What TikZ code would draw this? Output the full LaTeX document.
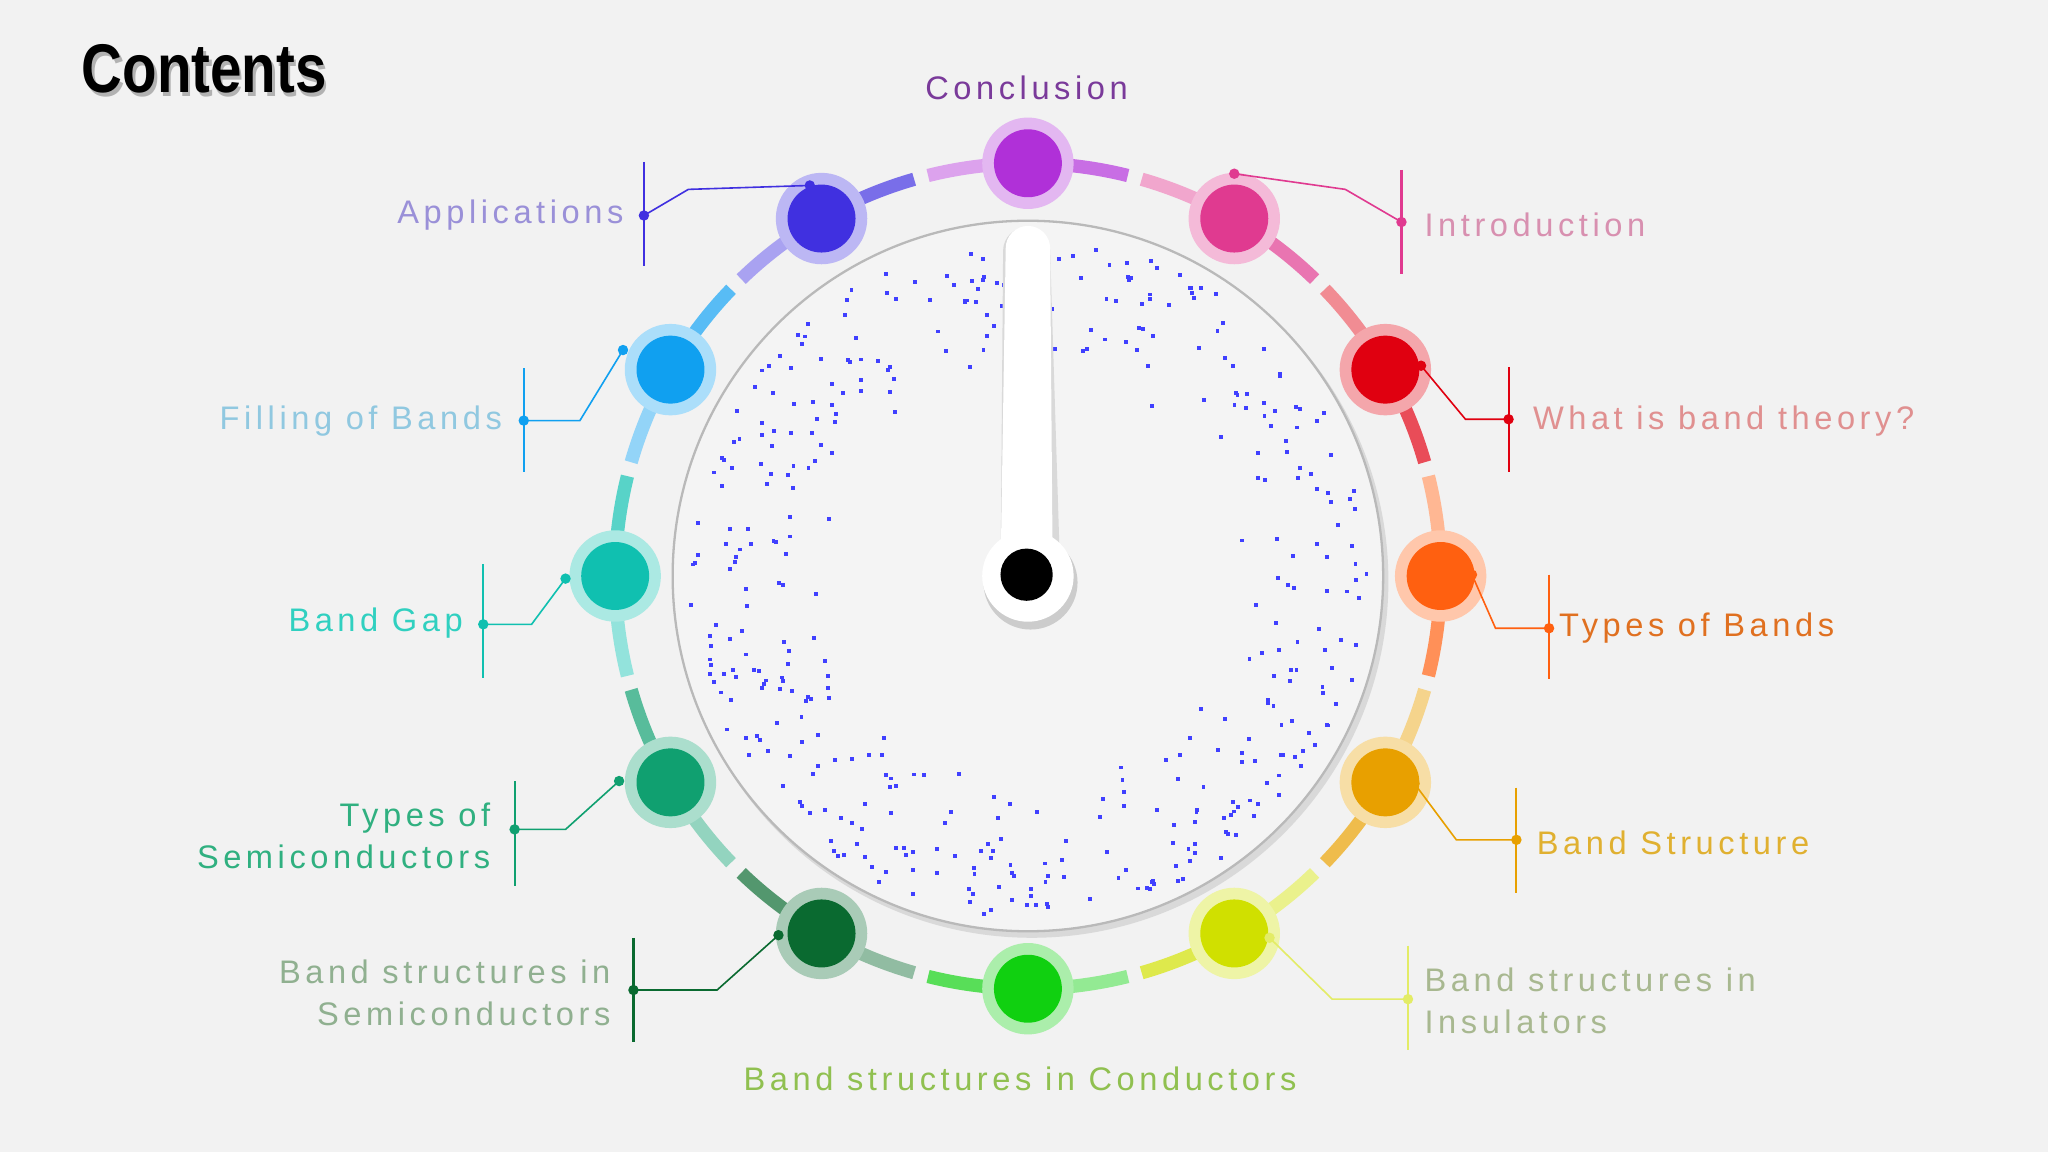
\documentclass[tikz,border=0pt]{standalone}
\usepackage{fontspec}
\setmainfont{Liberation Sans}
\newfontfamily\spaced[LetterSpace=14]{Liberation Sans}
\usetikzlibrary{calc}
\definecolor{bg}{HTML}{F2F2F2}
\definecolor{cA}{HTML}{B030D8}\definecolor{cB}{HTML}{E03A90}\definecolor{cC}{HTML}{E00010}
\definecolor{cD}{HTML}{FF6010}\definecolor{cE}{HTML}{E8A000}\definecolor{cF}{HTML}{D0E000}
\definecolor{cG}{HTML}{10D010}\definecolor{cH}{HTML}{0A6A30}\definecolor{cI}{HTML}{10A070}
\definecolor{cJ}{HTML}{10C0B0}\definecolor{cK}{HTML}{10A0F0}\definecolor{cL}{HTML}{4030E0}
\definecolor{tA}{HTML}{7A3A9A}\definecolor{tB}{HTML}{D890B0}\definecolor{tC}{HTML}{E09090}
\definecolor{tD}{HTML}{E07020}\definecolor{tE}{HTML}{E0B030}\definecolor{tF}{HTML}{A8B890}
\definecolor{tG}{HTML}{90C050}\definecolor{tH}{HTML}{90B090}\definecolor{tI}{HTML}{30B080}
\definecolor{tJ}{HTML}{30D0C0}\definecolor{tK}{HTML}{90C8E0}\definecolor{tL}{HTML}{9A90D8}
\tikzset{lbl/.style={font=\spaced\fontsize{7.1}{9.2}\selectfont,inner sep=0pt},
 lead/.style={line width=0.35pt},
 vbar/.style={line width=0.45pt}}
\newcommand\leader[4]{%
  \fill[#1] #2 circle (4);
  \draw[lead,#1] #2 -- #3 -- #4;
  \fill[#1] #4 circle (4);}
\begin{document}
\begin{tikzpicture}[x=0.01cm,y=-0.01cm]
\fill[bg] (0,0) rectangle (1568,882);
\useasboundingbox (0,0) rectangle (1568,882);
\coordinate (c) at (787,441);
% title
\node[anchor=west,xscale=0.82,inner sep=0pt,font=\bfseries\fontsize{15}{18}\selectfont,text=gray!60] at (64,56) {Contents};
\node[anchor=west,xscale=0.82,inner sep=0pt,font=\bfseries\fontsize{15}{18}\selectfont] (title) at (62,53) {Contents};
% ring arcs
\foreach \a/\col in {90/cA,60/cB,30/cC,0/cD,-30/cE,-60/cF,-90/cG,-120/cH,-150/cI,180/cJ,150/cK,120/cL}{
  \draw[line width=2.9pt,\col!45] ($(c)+(-\a-14:316)$) arc[start angle=-\a-14,end angle=-\a-1,radius=316];
  \draw[line width=2.9pt,\col!70] ($(c)+(-\a+1:316)$) arc[start angle=-\a+1,end angle=-\a+14,radius=316];
}
% inner disk
\fill[gray!30] ($(c)+(3,4)$) circle (273);
\fill[gray!9] (c) circle (272);
\draw[gray!55,line width=0.5pt] (c) circle (272);
% dots
\pgfmathsetseed{7}
\foreach \i in {1,...,420}{
  \pgfmathsetmacro\ang{rnd*360}
  \pgfmathsetmacro\rr{150+110*sqrt(rnd)}
  \fill[blue!75] ($(c)+(\ang:\rr)$) rectangle ++(3,3);
}
% hand
\fill[gray!30] (768,192) arc[start angle=180,end angle=360,radius=18] -- (812,448) -- (766,448) -- cycle;
\fill[white] (770,190) arc[start angle=180,end angle=360,radius=17] -- (806,441) -- (766,441) -- cycle;
% knob
\fill[gray!40] (789,446) circle (36);
\fill[white] (c) circle (35);
\fill[black] (786,440) circle (20);
\node (knob) at (c) {};
% nodes
\foreach \a/\col/\n in {90/cA/nA,60/cB/nB,30/cC/nC,0/cD/nD,-30/cE/nE,-60/cF/nF,-90/cG/nG,-120/cH/nH,-150/cI/nI,180/cJ/nJ,150/cK/nK,120/cL/nL}{
  \fill[\col!35] ($(c)+(-\a:316)$) circle (35);
  \node[circle,fill=\col,minimum size=0.52cm,inner sep=0pt] (\n) at ($(c)+(-\a:316)$) {};
}
% Applications
\leader{cL}{(620,142)}{(527,145)}{(493,165)}
\draw[vbar,cL] (493,124) -- (493,204);
\node[lbl,text=tL,anchor=east] (lL) at (478,165) {Applications};
% Filling
\leader{cK}{(477,268)}{(444,322)}{(401,322)}
\draw[vbar,cK] (401,282) -- (401,361);
\node[lbl,text=tK,anchor=east] (lK) at (385,322) {Filling of Bands};
% Band gap
\leader{cJ}{(433,443)}{(407,478)}{(370,478)}
\draw[vbar,cJ] (370,432) -- (370,519);
\node[lbl,text=tJ,anchor=east] (lJ) at (355,477) {Band Gap};
% Types of semiconductors
\leader{cI}{(474,598)}{(433,635)}{(394,635)}
\draw[vbar,cI] (394,598) -- (394,678);
\node[lbl,text=tI,anchor=east,align=right] (lI) at (376,640) {Types of\\Semiconductors};
% Band structures in semiconductors
\leader{cH}{(596,716)}{(549,758)}{(485,758)}
\draw[vbar,cH] (485,718) -- (485,798);
\node[lbl,text=tH,anchor=east,align=right] (lH) at (468,760) {Band structures in\\Semiconductors};
% Conductors
\node[lbl,text=tG] (lG) at (781,826) {Band structures in Conductors};
% Insulators
\leader{cF!60}{(972,718)}{(1020,765)}{(1078,765)}
\draw[vbar,cF!60] (1078,724) -- (1078,804);
\node[lbl,text=tF,anchor=west,align=left] (lF) at (1090,766) {Band structures in\\Insulators};
% Band structure
\leader{cE}{(1083,600)}{(1115,643)}{(1161,643)}
\draw[vbar,cE] (1161,603) -- (1161,684);
\node[lbl,text=tE,anchor=west] (lE) at (1176,645) {Band Structure};
% Types of bands
\leader{cD}{(1127,440)}{(1145,481)}{(1186,481)}
\draw[vbar,cD] (1186,440) -- (1186,520);
\node[lbl,text=tD,anchor=west] (lD) at (1193,481) {Types of Bands};
% What is band theory
\leader{cC}{(1088,280)}{(1122,321)}{(1155,321)}
\draw[vbar,cC] (1155,281) -- (1155,361);
\node[lbl,text=tC,anchor=west] (lC) at (1173,322) {What is band theory?};
% Introduction
\leader{cB}{(945,133)}{(1030,145)}{(1073,170)}
\draw[vbar,cB] (1073,130) -- (1073,210);
\node[lbl,text=tB,anchor=west] (lB) at (1090,172) {Introduction};
% Conclusion
\node[lbl,text=tA] (lA) at (786,67) {Conclusion};
\end{tikzpicture}
\end{document}
